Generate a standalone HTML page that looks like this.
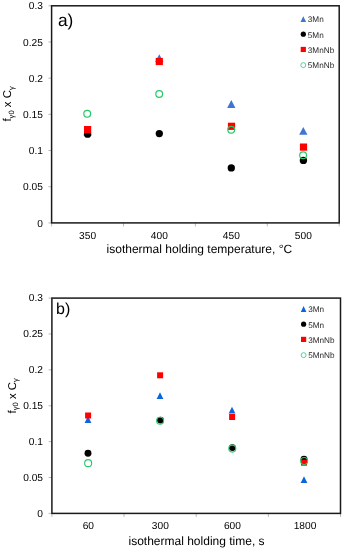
<!DOCTYPE html>
<html><head><meta charset="utf-8"><title>chart</title>
<style>
html,body{margin:0;padding:0;background:#fff;}
svg{display:block;font-family:"Liberation Sans", Arial, sans-serif;text-rendering:geometricPrecision;}
</style></head><body>
<svg width="344" height="550" viewBox="0 0 344 550">
<rect width="344" height="550" fill="#fff"/>
<line x1="48.4" y1="222.90" x2="51.60" y2="222.90" stroke="#b8b8b8" stroke-width="1"/>
<text transform="translate(42.9,226.50) scale(1,1)" text-anchor="end" font-size="10.2" fill="#000">0</text>
<line x1="48.4" y1="186.72" x2="51.60" y2="186.72" stroke="#b8b8b8" stroke-width="1"/>
<text transform="translate(42.9,190.32) scale(1,1)" text-anchor="end" font-size="10.2" fill="#000">0.05</text>
<line x1="48.4" y1="150.53" x2="51.60" y2="150.53" stroke="#b8b8b8" stroke-width="1"/>
<text transform="translate(42.9,154.13) scale(1,1)" text-anchor="end" font-size="10.2" fill="#000">0.1</text>
<line x1="48.4" y1="114.35" x2="51.60" y2="114.35" stroke="#b8b8b8" stroke-width="1"/>
<text transform="translate(42.9,117.95) scale(1,1)" text-anchor="end" font-size="10.2" fill="#000">0.15</text>
<line x1="48.4" y1="78.17" x2="51.60" y2="78.17" stroke="#b8b8b8" stroke-width="1"/>
<text transform="translate(42.9,81.77) scale(1,1)" text-anchor="end" font-size="10.2" fill="#000">0.2</text>
<line x1="48.4" y1="41.98" x2="51.60" y2="41.98" stroke="#b8b8b8" stroke-width="1"/>
<text transform="translate(42.9,45.58) scale(1,1)" text-anchor="end" font-size="10.2" fill="#000">0.25</text>
<line x1="48.4" y1="5.80" x2="51.60" y2="5.80" stroke="#b8b8b8" stroke-width="1"/>
<text transform="translate(42.9,9.40) scale(1,1)" text-anchor="end" font-size="10.2" fill="#000">0.3</text>
<line x1="51.60" y1="222.90" x2="51.60" y2="226.40" stroke="#b8b8b8" stroke-width="1"/>
<line x1="123.50" y1="222.90" x2="123.50" y2="226.40" stroke="#b8b8b8" stroke-width="1"/>
<line x1="195.40" y1="222.90" x2="195.40" y2="226.40" stroke="#b8b8b8" stroke-width="1"/>
<line x1="267.30" y1="222.90" x2="267.30" y2="226.40" stroke="#b8b8b8" stroke-width="1"/>
<line x1="339.20" y1="222.90" x2="339.20" y2="226.40" stroke="#b8b8b8" stroke-width="1"/>
<text transform="translate(87.60,239.0) scale(1,1)" text-anchor="middle" font-size="10.2" fill="#000">350</text>
<text transform="translate(159.30,239.0) scale(1,1)" text-anchor="middle" font-size="10.2" fill="#000">400</text>
<text transform="translate(231.30,239.0) scale(1,1)" text-anchor="middle" font-size="10.2" fill="#000">450</text>
<text transform="translate(303.30,239.0) scale(1,1)" text-anchor="middle" font-size="10.2" fill="#000">500</text>
<rect x="51.60" y="5.80" width="287.60" height="217.10" fill="none" stroke="#1a1a1a" stroke-width="1.5"/>
<text x="58.0" y="26.0" font-size="17.3" fill="#000">a)</text>
<text x="106.6" y="252.7" font-size="12" fill="#000">isothermal holding temperature, °C</text>
<text transform="translate(11.3,121.6) rotate(-90)" font-size="11.4" fill="#000">f<tspan font-size="7.7" dy="2.8">γ0</tspan><tspan dy="-2.8"> x C</tspan><tspan font-size="7.7" dy="2.8">γ</tspan></text>
<path d="M87.60 127.55L91.75 135.45L83.45 135.45Z" fill="#3f76d2"/>
<path d="M159.30 54.15L163.45 62.05L155.15 62.05Z" fill="#3f76d2"/>
<path d="M231.30 100.10L235.45 108.00L227.15 108.00Z" fill="#3f76d2"/>
<path d="M303.30 126.95L307.45 134.85L299.15 134.85Z" fill="#3f76d2"/>
<circle cx="87.60" cy="134.20" r="3.65" fill="#000"/>
<circle cx="159.30" cy="133.60" r="3.65" fill="#000"/>
<circle cx="231.30" cy="167.90" r="3.65" fill="#000"/>
<circle cx="303.40" cy="160.40" r="3.65" fill="#000"/>
<rect x="84.00" y="126.00" width="7.20" height="7.20" fill="#ff0000"/>
<rect x="155.70" y="57.90" width="7.20" height="7.20" fill="#ff0000"/>
<rect x="227.90" y="122.70" width="7.20" height="7.20" fill="#ff0000"/>
<rect x="299.90" y="143.50" width="7.20" height="7.20" fill="#ff0000"/>
<circle cx="87.20" cy="113.70" r="3.40" fill="none" stroke="#26c96a" stroke-width="1.2"/>
<circle cx="159.20" cy="94.00" r="3.40" fill="none" stroke="#26c96a" stroke-width="1.2"/>
<circle cx="231.20" cy="129.80" r="3.40" fill="none" stroke="#26c96a" stroke-width="1.2"/>
<circle cx="303.10" cy="155.30" r="3.40" fill="none" stroke="#26c96a" stroke-width="1.2"/>
<path d="M303.30 16.25L306.10 22.05L300.50 22.05Z" fill="#3f76d2"/>
<text x="307.8" y="22.45" font-size="8.2" fill="#2a2a2a">3Mn</text>
<circle cx="303.30" cy="34.20" r="2.60" fill="#000"/>
<text x="307.8" y="37.50" font-size="8.2" fill="#2a2a2a">5Mn</text>
<rect x="300.70" y="46.85" width="5.20" height="5.20" fill="#ff0000"/>
<text x="307.8" y="52.75" font-size="8.2" fill="#2a2a2a">3MnNb</text>
<circle cx="303.30" cy="65.10" r="2.48" fill="none" stroke="#4fd08e" stroke-width="0.95"/>
<text x="307.8" y="68.40" font-size="8.2" fill="#2a2a2a">5MnNb</text>
<line x1="48.6" y1="513.40" x2="51.90" y2="513.40" stroke="#b8b8b8" stroke-width="1"/>
<text transform="translate(43.0,516.70) scale(1,1)" text-anchor="end" font-size="10.2" fill="#000">0</text>
<line x1="48.6" y1="477.52" x2="51.90" y2="477.52" stroke="#b8b8b8" stroke-width="1"/>
<text transform="translate(43.0,480.82) scale(1,1)" text-anchor="end" font-size="10.2" fill="#000">0.05</text>
<line x1="48.6" y1="441.63" x2="51.90" y2="441.63" stroke="#b8b8b8" stroke-width="1"/>
<text transform="translate(43.0,444.93) scale(1,1)" text-anchor="end" font-size="10.2" fill="#000">0.1</text>
<line x1="48.6" y1="405.75" x2="51.90" y2="405.75" stroke="#b8b8b8" stroke-width="1"/>
<text transform="translate(43.0,409.05) scale(1,1)" text-anchor="end" font-size="10.2" fill="#000">0.15</text>
<line x1="48.6" y1="369.87" x2="51.90" y2="369.87" stroke="#b8b8b8" stroke-width="1"/>
<text transform="translate(43.0,373.17) scale(1,1)" text-anchor="end" font-size="10.2" fill="#000">0.2</text>
<line x1="48.6" y1="333.98" x2="51.90" y2="333.98" stroke="#b8b8b8" stroke-width="1"/>
<text transform="translate(43.0,337.28) scale(1,1)" text-anchor="end" font-size="10.2" fill="#000">0.25</text>
<line x1="48.6" y1="298.10" x2="51.90" y2="298.10" stroke="#b8b8b8" stroke-width="1"/>
<text transform="translate(43.0,301.40) scale(1,1)" text-anchor="end" font-size="10.2" fill="#000">0.3</text>
<line x1="51.90" y1="513.40" x2="51.90" y2="516.90" stroke="#b8b8b8" stroke-width="1"/>
<line x1="124.05" y1="513.40" x2="124.05" y2="516.90" stroke="#b8b8b8" stroke-width="1"/>
<line x1="196.20" y1="513.40" x2="196.20" y2="516.90" stroke="#b8b8b8" stroke-width="1"/>
<line x1="268.35" y1="513.40" x2="268.35" y2="516.90" stroke="#b8b8b8" stroke-width="1"/>
<line x1="340.50" y1="513.40" x2="340.50" y2="516.90" stroke="#b8b8b8" stroke-width="1"/>
<text transform="translate(88.30,529.1) scale(1,1)" text-anchor="middle" font-size="10.2" fill="#000">60</text>
<text transform="translate(160.30,529.1) scale(1,1)" text-anchor="middle" font-size="10.2" fill="#000">300</text>
<text transform="translate(232.40,529.1) scale(1,1)" text-anchor="middle" font-size="10.2" fill="#000">600</text>
<text transform="translate(305.00,529.1) scale(1,1)" text-anchor="middle" font-size="10.2" fill="#000">1800</text>
<rect x="51.90" y="298.10" width="288.60" height="215.30" fill="none" stroke="#1a1a1a" stroke-width="1.5"/>
<text x="56.0" y="314.3" font-size="16" fill="#000">b)</text>
<text x="128.5" y="544.7" font-size="12" fill="#000">isothermal holding time, s</text>
<text transform="translate(15.6,413.5) rotate(-90)" font-size="11.4" fill="#000">f<tspan font-size="7.7" dy="2.8">γ0</tspan><tspan dy="-2.8"> x C</tspan><tspan font-size="7.7" dy="2.8">γ</tspan></text>
<path d="M88.00 416.10L91.40 422.90L84.60 422.90Z" fill="#0a66dc"/>
<path d="M160.00 392.30L163.40 399.10L156.60 399.10Z" fill="#0a66dc"/>
<path d="M232.00 406.80L235.40 413.60L228.60 413.60Z" fill="#0a66dc"/>
<path d="M304.00 476.20L307.40 483.00L300.60 483.00Z" fill="#0a66dc"/>
<circle cx="88.00" cy="453.20" r="3.45" fill="#000"/>
<circle cx="160.50" cy="420.10" r="3.45" fill="#000"/>
<circle cx="232.40" cy="447.60" r="3.45" fill="#000"/>
<circle cx="304.00" cy="459.20" r="3.45" fill="#000"/>
<rect x="85.10" y="412.50" width="6.00" height="6.00" fill="#ff0000"/>
<rect x="157.10" y="372.30" width="6.00" height="6.00" fill="#ff0000"/>
<rect x="229.10" y="414.00" width="6.00" height="6.00" fill="#ff0000"/>
<rect x="301.00" y="459.70" width="6.00" height="6.00" fill="#ff0000"/>
<circle cx="88.15" cy="463.15" r="3.50" fill="none" stroke="#26c96a" stroke-width="1.1"/>
<circle cx="160.10" cy="420.80" r="3.50" fill="none" stroke="#26c96a" stroke-width="1.1"/>
<circle cx="232.30" cy="448.60" r="3.50" fill="none" stroke="#26c96a" stroke-width="1.1"/>
<circle cx="304.15" cy="461.00" r="3.50" fill="none" stroke="#26c96a" stroke-width="1.1"/>
<path d="M303.60 306.10L306.40 311.90L300.80 311.90Z" fill="#0a66dc"/>
<text x="308.2" y="312.30" font-size="8.2" fill="#2a2a2a">3Mn</text>
<circle cx="303.60" cy="324.20" r="2.60" fill="#000"/>
<text x="308.2" y="327.50" font-size="8.2" fill="#2a2a2a">5Mn</text>
<rect x="301.00" y="336.80" width="5.20" height="5.20" fill="#ff0000"/>
<text x="308.2" y="342.70" font-size="8.2" fill="#2a2a2a">3MnNb</text>
<circle cx="303.60" cy="355.10" r="2.48" fill="none" stroke="#4fd08e" stroke-width="0.95"/>
<text x="308.2" y="358.40" font-size="8.2" fill="#2a2a2a">5MnNb</text>
</svg>
</body></html>
